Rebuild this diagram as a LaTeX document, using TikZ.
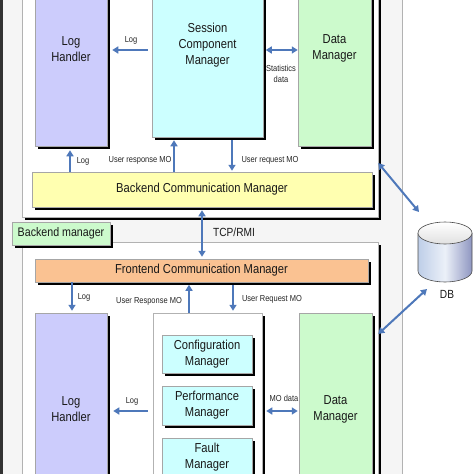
\documentclass[tikz,border=0pt]{standalone}
\usepackage{fontspec}
\setmainfont{Liberation Sans}[FakeStretch=0.86]
\usetikzlibrary{arrows.meta,shadows}
\definecolor{panelgrey}{RGB}{245,245,245}
\definecolor{lav}{RGB}{204,204,252}
\definecolor{cyanbox}{RGB}{204,255,255}
\definecolor{greenbox}{RGB}{204,250,204}
\definecolor{yellowbox}{RGB}{255,255,176}
\definecolor{orangebox}{RGB}{250,194,146}
\definecolor{arrowblue}{RGB}{78,120,186}
\definecolor{dbbody}{RGB}{190,206,232}
\begin{document}
\begin{tikzpicture}[x=1pt,y=-1pt,
  shadowed/.style={drop shadow={shadow xshift=2.5pt, shadow yshift=-2.5pt, fill=black, opacity=1}},
  box/.style={draw=gray!70, line width=0.5pt, shadowed, align=center, inner sep=0pt,
    font=\fontsize{13}{16}\selectfont, text=black!90},
  container/.style={draw=gray!60, line width=0.5pt, fill=white, shadowed, inner sep=0pt},
  arr/.style={draw=arrowblue, line width=2pt, -{Triangle[length=6pt,width=7pt]}},
  darr/.style={draw=arrowblue, line width=2pt, {Triangle[length=6pt,width=7pt]}-{Triangle[length=6pt,width=7pt]}},
  lbl/.style={font=\fontsize{8.7}{11}\selectfont, text=black!85, inner sep=0pt, align=center},
  bigtext/.style={font=\fontsize{11.8}{13}\selectfont, text=black!90, inner sep=0pt},
]
\path[use as bounding box, clip] (0,0) rectangle (474,474);
% background panel
\fill[panelgrey] (3,-10) rectangle (402,490);
\draw[gray!60, line width=0.6pt] (402,-10) -- (402,490);
\fill[black!80] (0,-10) rectangle (2.5,490);

% containers
\node[container, minimum width=356pt, minimum height=277pt] (bec) at (200,78.5) {};
\node[container, minimum width=356pt, minimum height=298pt] (fec) at (200,391) {};
\node[box, fill=greenbox, minimum width=98pt, minimum height=23pt, font=\fontsize{12.4}{13}\selectfont] (bml) at (61,233.5) {Backend manager};

% backend boxes
\node[box, fill=lav, minimum width=72pt, minimum height=194pt] (lh1) at (71,49) {Log\\Handler};
\node[box, fill=cyanbox, minimum width=111pt, minimum height=184pt] (sess) at (207.5,45) {Session\\Component\\Manager};
\node[box, fill=greenbox, minimum width=73pt, minimum height=195pt] (data1) at (334.5,48.5) {Data\\Manager};
\node[box, fill=yellowbox, minimum width=340pt, minimum height=35pt] (bc) at (202,189.5) {Backend Communication Manager};

% frontend boxes
\node[box, fill=orangebox, minimum width=333pt, minimum height=23pt] (fc) at (201.5,270.5) {Frontend Communication Manager};
\node[box, fill=lav, minimum width=72pt, minimum height=192pt] (lh2) at (71,409) {Log\\Handler};
\node[container, minimum width=109pt, minimum height=247pt] (inner) at (207.5,436.5) {};
\node[box, fill=cyanbox, minimum width=90pt, minimum height=38pt] (conf) at (207,354) {Configuration\\Manager};
\node[box, fill=cyanbox, minimum width=90pt, minimum height=39pt] (perf) at (207,405.5) {Performance\\Manager};
\node[box, fill=cyanbox, minimum width=90pt, minimum height=39pt] (fault) at (207,457.5) {Fault\\Manager};
\node[box, fill=greenbox, minimum width=73pt, minimum height=192pt] (data2) at (335.5,409) {Data\\Manager};

% DB cylinder
\shade[left color=dbbody, right color=dbbody!80!blue!60!gray, middle color=white!70!dbbody]
  (418,233) -- (418,271) arc[start angle=180, end angle=360, x radius=27pt, y radius=11pt]
  -- (472,233) arc[start angle=360, end angle=180, x radius=27pt, y radius=11pt] -- cycle;
\draw[black!70, line width=0.6pt]
  (418,233) -- (418,271) arc[start angle=180, end angle=360, x radius=27pt, y radius=11pt]
  -- (472,233);
\shade[top color=white, bottom color=black!12, draw=black!70, line width=0.6pt]
  (445,233) ellipse[x radius=27pt, y radius=11pt];
\node[bigtext] (db) at (447,294) {DB};
\coordinate (dbA) at (419,212);
\coordinate (dbB) at (427,289);

% backend arrows
\draw[arr, shorten <=4pt, shorten >=5pt] (sess.west |- 0,50) -- (lh1.east |- 0,50);
\draw[arr, shorten >=4pt] (bc.north -| 70,0) -- (lh1.south -| 70,0);
\draw[arr, shorten >=3pt] (bc.north -| 174,0) -- (sess.south -| 174,0);
\draw[arr, shorten <=3pt, shorten >=1pt] (sess.south -| 232,0) -- (bc.north -| 232,0);
\draw[darr, shorten <=2.5pt] (sess.east |- 0,50) -- (data1.west |- 0,50);
\draw[darr, shorten <=3pt, shorten >=2pt] (bc.south -| 202,0) -- (fc.north -| 202,0);
\draw[darr] (bec.east |- 0,163) -- (dbA);
\draw[darr] (fec.east |- 0,334) -- (dbB);

% frontend arrows
\draw[arr, shorten >=2pt] (fc.south -| 72,0) -- (lh2.north -| 72,0);
\draw[arr, shorten >=2.5pt] (inner.north -| 189,0) -- (fc.south -| 189,0);
\draw[arr, shorten <=2.5pt, shorten >=2pt] (fc.south -| 233,0) -- (inner.north -| 233,0);
\draw[arr, shorten <=5pt, shorten >=6pt] (inner.west |- 0,411) -- (lh2.east |- 0,411);
\draw[darr, shorten <=4pt, shorten >=1pt] (inner.east |- 0,411) -- (data2.west |- 0,411);

% labels
\node[lbl] (l1) at (131,40) {Log};
\node[lbl] (l2) at (83,161) {Log};
\node[lbl] (l3) at (140,160) {User response MO};
\node[lbl] (l4) at (270,160) {User request MO};
\node[lbl] (l5) at (281,73.5) {Statistics\\data};
\node[bigtext] (tcp) at (234,232) {TCP/RMI};
\node[lbl] (l6) at (84,297) {Log};
\node[lbl] (l7) at (149,301) {User Response MO};
\node[lbl] (l8) at (272,299) {User Request MO};
\node[lbl] (l9) at (132,401) {Log};
\node[lbl] (l10) at (284,398) {MO data};
\end{tikzpicture}
\end{document}
